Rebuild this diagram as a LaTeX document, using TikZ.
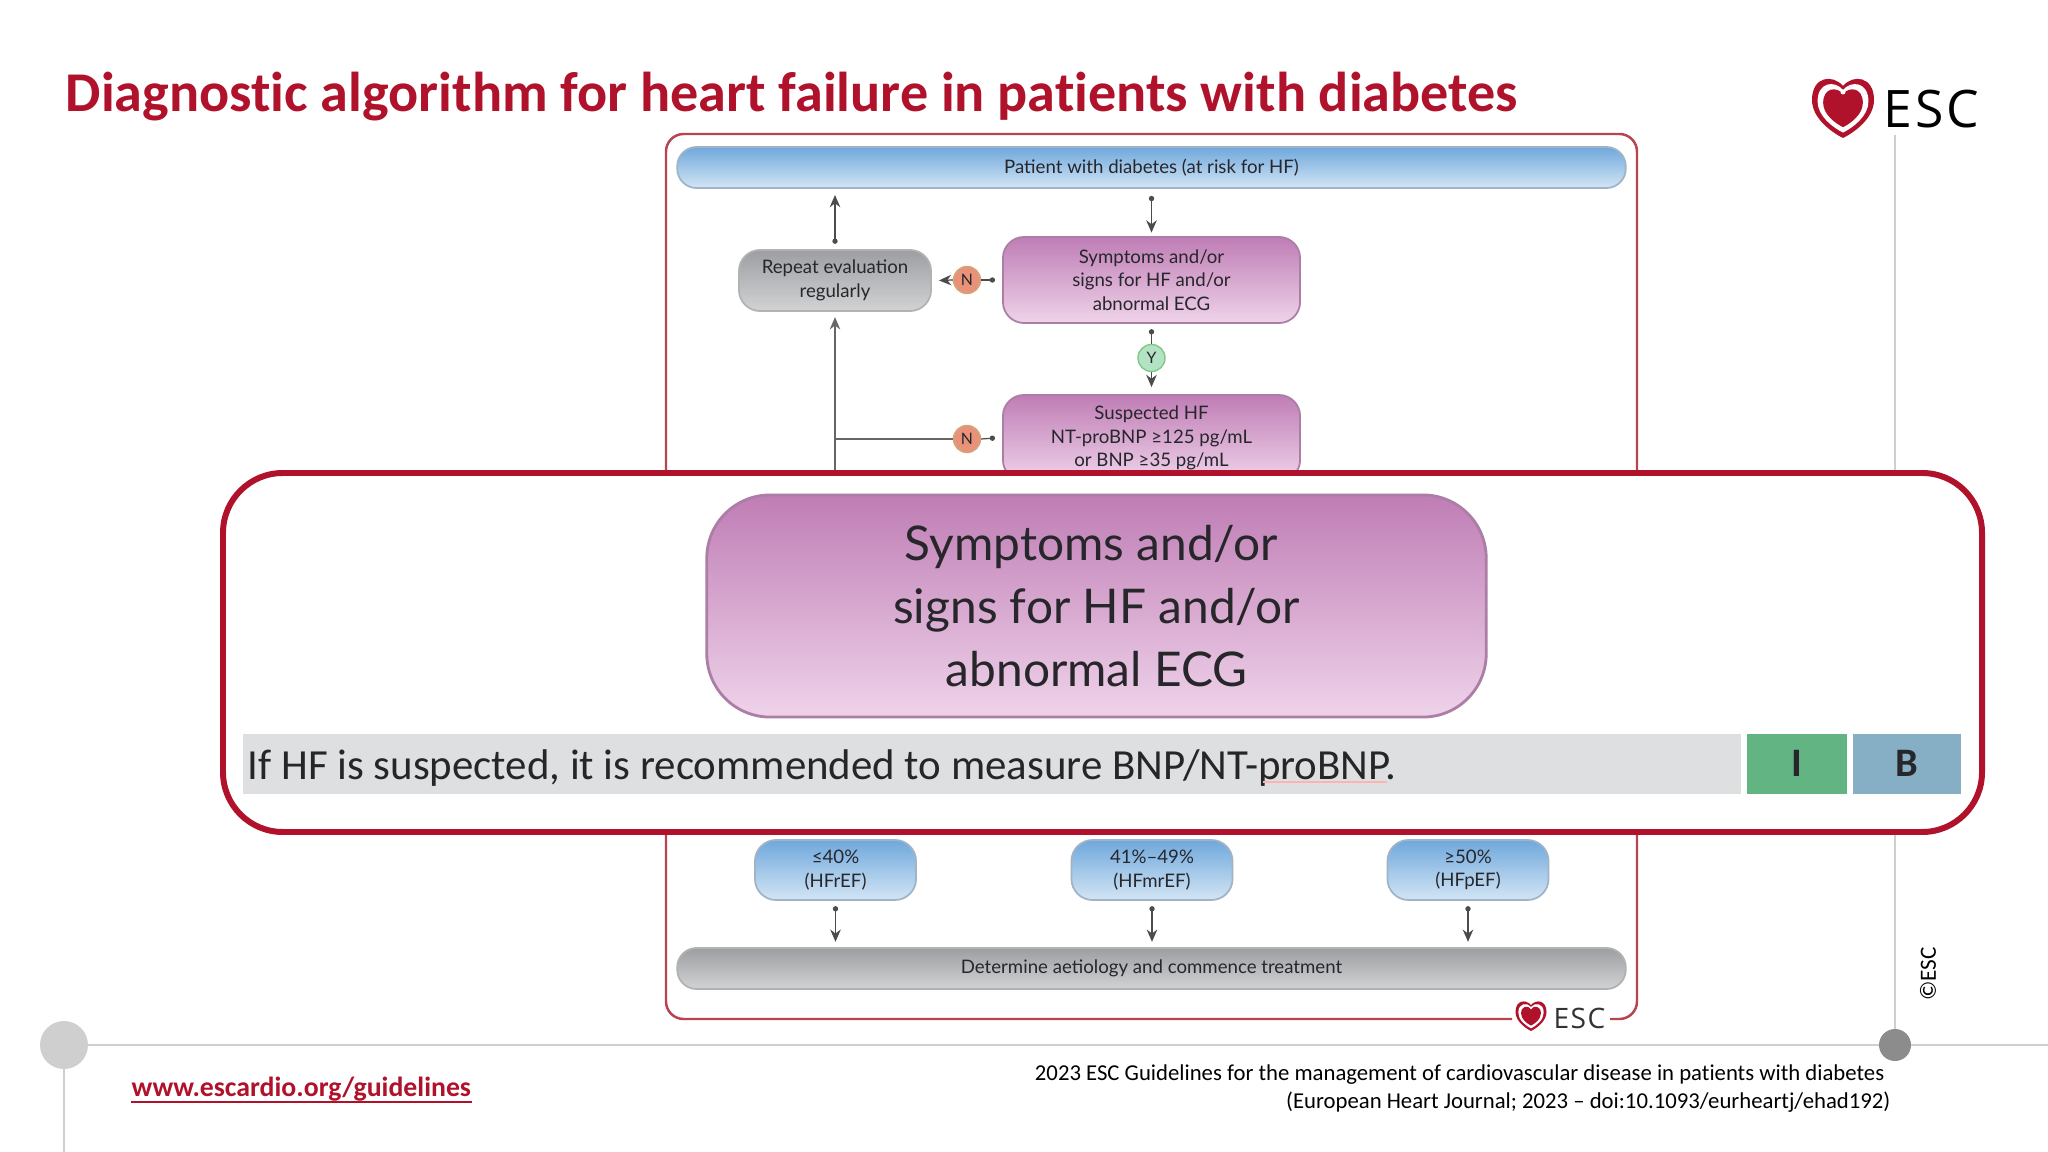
\documentclass[tikz,border=0pt]{standalone}
\usepackage{fontspec}
\setmainfont[Ligatures=NoCommon]{Carlito}
\newfontfamily\boxfont{Lato}
\newfontfamily\logofont[LetterSpace=5]{Open Sans}
\usetikzlibrary{arrows.meta}

\definecolor{escred}{HTML}{B0122B}
\definecolor{framered}{HTML}{B9434F}
\definecolor{rulegray}{HTML}{CFCFCF}
\definecolor{inktext}{HTML}{26262B}
\definecolor{pbtop}{HTML}{BF7DB5}
\definecolor{pbbot}{HTML}{EFD3EA}
\definecolor{bbtop}{HTML}{6FA8DC}
\definecolor{bbbot}{HTML}{D3E5F5}
\definecolor{gbtop}{HTML}{9C9EA1}
\definecolor{gbbot}{HTML}{D2D3D5}
\definecolor{answernfill}{HTML}{E8927A}
\definecolor{answeryfill}{HTML}{B4E2C4}
\definecolor{recgray}{HTML}{DDDFE0}
\definecolor{classgreen}{HTML}{62B482}
\definecolor{levelblue}{HTML}{86AEC4}

\newcommand{\heartshape}{(0,-22) .. controls (10,-34) and (31,-32) .. (31,-8) .. controls (31,10) and (12,24) .. (0,30) .. controls (-12,24) and (-31,10) .. (-31,-8) .. controls (-31,-32) and (-10,-34) .. (0,-22) -- cycle}

\tikzset{
    flow/.style={draw=black!70, line width=0.35pt, {Circle[length=1.5pt]}-{Stealth[length=3.5pt,width=3pt]}},
    flowstub/.style={draw=black!70, line width=0.35pt, {Circle[length=1.5pt]}-},
    flowtip/.style={draw=black!70, line width=0.35pt, -{Stealth[length=3.5pt,width=3pt]}},
    flowline/.style={draw=black!60, line width=0.35pt},
    smalltext/.style={text=inktext, align=center, font=\boxfont\fontsize{5.3}{6.7}\selectfont},
    purplebox/.style={smalltext, draw=pbtop!70!gray, line width=0.5pt, rounded corners=6pt, top color=pbtop, bottom color=pbbot, minimum width=2.97cm, minimum height=0.86cm, inner sep=0pt},
    bluebox/.style={smalltext, draw=bbtop!50!gray!70, line width=0.5pt, rounded corners=6pt, top color=bbtop, bottom color=bbbot, minimum width=1.61cm, minimum height=0.6cm, inner sep=0pt},
    graybox/.style={smalltext, draw=gray!60, line width=0.5pt, rounded corners=6pt, top color=gbtop, bottom color=gbbot, minimum width=1.92cm, minimum height=0.61cm, inner sep=0pt},
    barbox/.style={smalltext, rounded corners=5.5pt, minimum width=9.48cm, minimum height=0.41cm, inner sep=0pt},
    answern/.style={circle, draw=orange!50!gray!70, line width=0.4pt, fill=answernfill, text=inktext, font=\boxfont\fontsize{4.5}{5}\selectfont, minimum size=0.27cm, inner sep=0pt},
    answery/.style={circle, draw=green!40!gray!70, line width=0.4pt, fill=answeryfill, text=inktext, font=\boxfont\fontsize{4.5}{5}\selectfont, minimum size=0.27cm, inner sep=0pt},
    ruleline/.style={draw=rulegray, line width=0.6pt},
    escheart/.pic={
        \fill[escred] \heartshape;
        \fill[white,scale=0.82] \heartshape;
        \fill[escred,scale=0.64] \heartshape;
        \fill[white] (0,-16) circle (2.5);
    },
}

\begin{document}
\begin{tikzpicture}[x=0.01cm,y=-0.01cm]

    \useasboundingbox (0,0) rectangle (2048,1152);

    % footer lines
    \draw[ruleline] (64,1045) -- (2048,1045);
    \draw[ruleline] (64,1045) -- (64,1152);
    \draw[ruleline] (1895,135) -- (1895,1045);
    \fill[rulegray] (64,1045) circle (24);
    \fill[black!45] (1895,1045) circle (16);

    % title and logo
    \node[anchor=west, inner sep=0pt, text=escred, font=\bfseries\fontsize{15.97}{18}\selectfont] (title) at (65,97) {Diagnostic algorithm for heart failure in patients with diabetes};
    \pic at (1843,108) {escheart};
    \node[anchor=west, inner sep=0pt, font=\logofont\fontsize{14.7}{16}\selectfont] (esclogo) at (1883,109) {ESC};

    % outer frame of the algorithm
    \fill[white] (666,134) rectangle (1637,1019);
    \draw[framered, line width=0.7pt, rounded corners=5pt] (1512,1019) -- (666,1019) -- (666,134) -- (1637,134) -- (1637,1019) -- (1610,1019);
    \pic[scale=0.5] at (1531,1016) {escheart};
    \node[anchor=west, inner sep=0pt, text=black!80, font=\logofont\fontsize{8}{9}\selectfont] (esclogosmall) at (1553,1018) {ESC};

    % upper part
    \node[barbox, draw=bbtop!50!gray!70, line width=0.5pt, top color=bbtop, bottom color=bbbot] (patient) at (1151.5,167.5) {Patient with diabetes (at risk for HF)};
    \node[graybox] (repeat) at (835,280.5) {Repeat evaluation\\regularly};
    \node[purplebox] (symptoms) at (1151.5,280) {Symptoms and/or\\signs for HF and/or\\abnormal ECG};
    \node[purplebox] (suspected) at (1151.5,438) {Suspected HF\\NT-proBNP ≥125 pg/mL\\or BNP ≥35 pg/mL};
    \node[answern] (no1) at (967,280) {N};
    \node[answery] (yes1) at (1151.5,358) {Y};
    \node[answern] (no2) at (967,439) {N};
    \coordinate (hidden) at (835,480);
    \coordinate (join) at (835,439);
    \coordinate (uptip) at (835,195);

    \draw[flow] ([yshift=1.5pt]repeat.north) -- (uptip);
    \draw[flow] ([yshift=-2pt]patient.south) -- ([yshift=1pt]symptoms.north);
    \draw[flowstub] ([xshift=-2pt]symptoms.west) -- (no1.east);
    \draw[flowtip] (no1.west) -- ([xshift=2pt]repeat.east);
    \draw[flowstub] ([yshift=-1.5pt]symptoms.south) -- (yes1.north);
    \draw[flowtip] (yes1.south) -- ([yshift=2pt]suspected.north);
    \draw[flowstub] ([xshift=-2pt]suspected.west) -- (no2.east);
    \draw[flowline] (no2.west) -- (join);
    \draw[flowline, -{Stealth[length=3.5pt,width=3pt]}] (hidden) -- ([yshift=-1.5pt]repeat.south);

    % lower part
    \node[bluebox] (hfref) at (835.5,870) {≤40\%\\(HFrEF)};
    \node[bluebox] (hfmref) at (1152,870) {41\%–49\%\\(HFmrEF)};
    \node[bluebox] (hfpef) at (1468,870) {≥50\%\\(HFpEF)};
    \node[barbox, draw=gray!60, line width=0.5pt, top color=gbtop, bottom color=gbbot] (treat) at (1151.5,968.5) {Determine aetiology and commence treatment};
    \draw[flow] ([yshift=-1.5pt]hfref.south) -- ([yshift=1.5pt]hfref.south |- treat.north);
    \draw[flow] ([yshift=-1.5pt]hfmref.south) -- ([yshift=1.5pt]hfmref.south |- treat.north);
    \draw[flow] ([yshift=-1.5pt]hfpef.south) -- ([yshift=1.5pt]hfpef.south |- treat.north);

    % enlarged recommendation
    \draw[escred, line width=1.7pt, fill=white, rounded corners=17pt] (223,473) rectangle (1982,832);
    \node[purplebox, rounded corners=18pt, line width=0.8pt, minimum width=7.79cm, minimum height=2.22cm, font=\boxfont\fontsize{13.6}{18}\selectfont] (bigsymptoms) at (1096.5,606) {Symptoms and/or\hspace*{3pt}\\signs for HF and/or\hspace*{3pt}\\abnormal ECG};
    \node[anchor=north west, fill=recgray, minimum width=14.97cm, minimum height=0.6cm, inner sep=0pt] (recbar) at (242,733) {};
    \node[anchor=west, inner sep=0pt, text=black!85, font=\fontsize{12.2}{14}\selectfont] (rectext) at (247,768) {If HF is suspected, it is recommended to measure BNP/NT-proBNP.};
    \draw[red!30, line width=0.4pt] (1263,782) -- (1387,782);
    \node[anchor=north west, fill=classgreen, text=inktext, minimum width=1cm, minimum height=0.6cm, inner sep=0pt, font=\bfseries\fontsize{11.5}{13}\selectfont] (classbox) at (1746,733) {I};
    \node[anchor=north west, fill=levelblue, text=inktext, minimum width=1.08cm, minimum height=0.6cm, inner sep=0pt, font=\bfseries\fontsize{11.5}{13}\selectfont] (levelbox) at (1852,733) {B};

    % footer text
    \node[anchor=west, inner sep=0pt, text=escred, font=\bfseries\fontsize{7.9}{10}\selectfont] (url) at (131,1089) {www.escardio.org/guidelines};
    \draw[escred, line width=0.5pt] (url.south west) coordinate (urlstart) -- (urlstart -| url.south east);
    \node[anchor=east, inner sep=0pt, font=\fontsize{6.46}{8}\selectfont] (cite1) at (1885,1075) {2023 ESC Guidelines for the management of cardiovascular disease in patients with diabetes};
    \node[anchor=east, inner sep=0pt, font=\fontsize{6.46}{8}\selectfont] (cite2) at (1891,1102) {(European Heart Journal; 2023 – doi:10.1093/eurheartj/ehad192)};
    \node[rotate=90, inner sep=0pt, font=\fontsize{6.6}{8}\selectfont] (copyright) at (1928,974) {©ESC};

\end{tikzpicture}
\end{document}
